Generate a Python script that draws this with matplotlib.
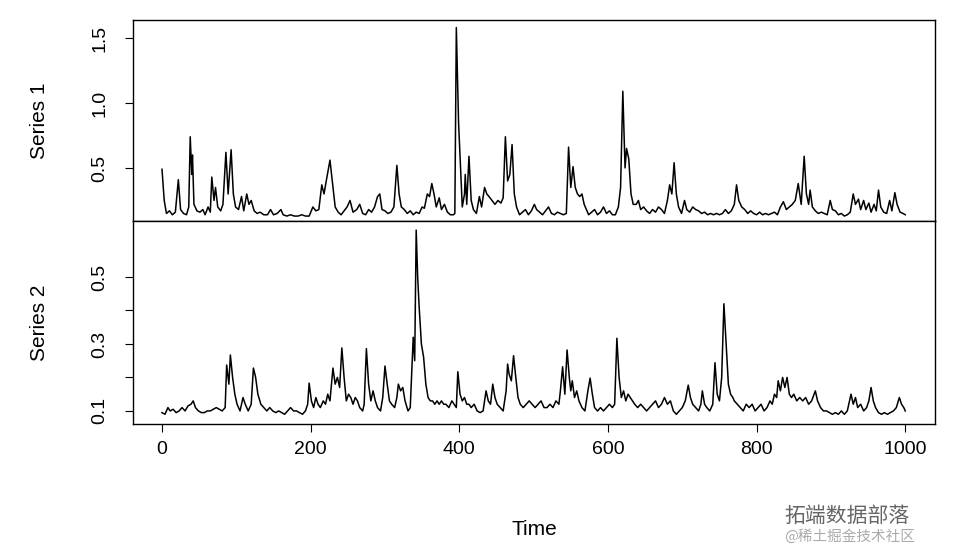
import matplotlib
matplotlib.use("Agg")
import matplotlib.pyplot as plt

s1 = [(0,.49),(3,.25),(6,.15),(10,.17),(14,.14),(18,.16),(22,.41),(25,.18),(29,.15),(33,.14),(36,.2),(38,.74),(40,.45),(41,.6),(43,.22),(47,.17),(51,.16),(55,.18),(58,.14),(62,.2),(65,.16),(67,.43),(70,.25),(72,.35),(75,.2),(79,.17),(82,.22),(86,.62),(89,.3),(93,.64),(96,.3),(99,.2),(103,.18),(107,.28),(110,.17),(114,.3),(117,.22),(120,.25),(124,.17),(128,.15),(132,.16),(137,.14),(142,.14),(146,.18),(150,.14),(155,.15),(160,.18),(163,.14),(168,.13),(173,.14),(178,.13),(183,.13),(188,.14),(193,.13),(198,.13),(203,.2),(207,.17),(211,.18),(215,.37),(218,.3),(221,.4),(226,.56),(230,.35),(233,.2),(237,.16),(241,.14),(245,.17),(249,.2),(253,.25),(257,.16),(262,.18),(266,.22),(270,.15),(274,.14),(278,.18),(282,.16),(286,.2),(290,.28),(293,.3),(296,.18),(300,.17),(304,.15),(308,.16),(312,.2),(316,.52),(319,.3),(322,.2),(326,.18),(330,.15),(334,.17),(338,.14),(342,.16),(346,.15),(350,.2),(353,.19),(357,.3),(360,.28),(363,.38),(366,.3),(369,.2),(373,.27),(376,.18),(380,.22),(384,.16),(388,.14),(392,.14),(394,.15),(396,1.58),(399,.85),(402,.45),(404,.2),(407,.3),(408,.45),(410,.22),(413,.59),(416,.25),(419,.18),(423,.15),(427,.28),(430,.2),(434,.35),(437,.3),(440,.28),(444,.25),(448,.22),(452,.25),(456,.23),(459,.27),(462,.74),(465,.4),(468,.45),(471,.68),(474,.3),(477,.2),(481,.14),(485,.16),(489,.18),(493,.14),(497,.17),(501,.22),(504,.18),(508,.16),(512,.14),(516,.17),(520,.2),(524,.15),(528,.14),(532,.16),(536,.15),(540,.14),(544,.15),(547,.66),(550,.35),(553,.51),(556,.35),(559,.3),(562,.28),(565,.3),(568,.22),(571,.18),(574,.14),(578,.16),(582,.18),(586,.14),(590,.16),(594,.2),(598,.15),(602,.17),(606,.14),(610,.14),(614,.2),(617,.35),(620,1.09),(623,.5),(625,.65),(628,.57),(631,.3),(634,.22),(638,.22),(641,.25),(644,.18),(648,.2),(652,.17),(656,.15),(660,.18),(664,.16),(668,.2),(672,.18),(676,.15),(680,.25),(683,.37),(686,.3),(689,.54),(692,.3),(695,.2),(699,.15),(703,.25),(706,.18),(710,.16),(714,.2),(718,.18),(722,.17),(726,.15),(730,.16),(734,.14),(738,.15),(742,.14),(746,.15),(750,.14),(754,.15),(758,.18),(762,.15),(766,.17),(770,.22),(773,.37),(776,.25),(780,.2),(784,.18),(788,.15),(792,.17),(796,.15),(800,.14),(804,.16),(808,.14),(812,.15),(816,.14),(820,.15),(824,.16),(828,.14),(832,.2),(836,.24),(840,.18),(844,.2),(848,.22),(852,.25),(856,.38),(860,.22),(864,.59),(867,.3),(870,.22),(872,.33),(875,.2),(879,.17),(883,.15),(887,.16),(891,.15),(895,.14),(899,.25),(902,.18),(906,.17),(910,.14),(914,.15),(918,.13),(922,.14),(926,.16),(930,.3),(933,.22),(937,.26),(940,.18),(944,.25),(947,.18),(951,.23),(954,.16),(958,.22),(961,.17),(964,.33),(967,.2),(971,.16),(975,.15),(979,.25),(982,.17),(986,.31),(989,.22),(993,.16),(997,.15),(1000,.14)]

s2 = [(0,.095),(4,.09),(8,.11),(11,.1),(15,.105),(19,.095),(23,.1),(27,.11),(31,.1),(35,.115),(39,.12),(42,.13),(45,.11),(49,.1),(53,.095),(57,.095),(61,.1),(65,.1),(69,.105),(73,.11),(77,.105),(81,.1),(85,.11),(87,.237),(90,.18),(92,.267),(95,.2),(98,.15),(101,.12),(105,.1),(109,.14),(112,.12),(116,.1),(120,.12),(123,.228),(126,.2),(129,.15),(133,.12),(137,.11),(141,.1),(145,.11),(149,.1),(153,.095),(157,.1),(161,.095),(165,.09),(169,.1),(173,.11),(177,.1),(181,.1),(185,.095),(189,.09),(193,.1),(196,.12),(198,.183),(201,.13),(204,.11),(207,.14),(210,.12),(213,.11),(217,.13),(220,.12),(223,.15),(226,.13),(230,.228),(233,.18),(236,.2),(239,.17),(242,.288),(245,.2),(248,.13),(251,.15),(254,.14),(257,.12),(260,.14),(263,.13),(266,.11),(270,.1),(272,.12),(275,.286),(278,.18),(281,.13),(284,.16),(287,.13),(290,.11),(294,.1),(297,.14),(300,.234),(303,.18),(306,.13),(309,.12),(313,.11),(316,.14),(318,.18),(321,.16),(324,.17),(327,.13),(331,.1),(334,.11),(338,.32),(340,.25),(342,.64),(344,.5),(346,.41),(349,.3),(352,.26),(355,.18),(358,.14),(361,.13),(364,.13),(367,.12),(370,.13),(373,.12),(376,.13),(379,.12),(382,.12),(386,.11),(390,.13),(393,.12),(396,.11),(398,.217),(401,.15),(404,.13),(407,.14),(410,.12),(413,.12),(416,.11),(420,.12),(424,.1),(428,.095),(432,.1),(436,.16),(439,.13),(442,.12),(445,.18),(448,.14),(451,.12),(455,.11),(459,.1),(463,.16),(465,.24),(467,.21),(470,.19),(473,.265),(476,.2),(479,.14),(482,.12),(486,.11),(490,.12),(494,.13),(498,.12),(502,.11),(506,.12),(510,.13),(514,.11),(518,.11),(522,.12),(526,.11),(530,.13),(534,.12),(536,.16),(539,.232),(542,.15),(545,.282),(548,.2),(550,.16),(552,.19),(555,.14),(558,.16),(561,.13),(565,.11),(569,.1),(573,.16),(576,.198),(579,.15),(582,.11),(586,.1),(590,.11),(594,.1),(598,.11),(602,.12),(606,.11),(609,.12),(612,.317),(615,.2),(618,.14),(621,.16),(624,.13),(627,.15),(630,.14),(633,.13),(636,.12),(640,.11),(644,.12),(648,.11),(652,.1),(656,.11),(660,.12),(664,.13),(668,.11),(672,.12),(676,.14),(680,.12),(684,.13),(688,.1),(692,.09),(696,.1),(700,.11),(704,.13),(708,.177),(711,.14),(714,.12),(718,.11),(722,.1),(725,.12),(727,.16),(730,.12),(733,.11),(737,.1),(741,.12),(744,.244),(747,.15),(750,.13),(753,.2),(756,.42),(759,.3),(762,.18),(765,.15),(768,.14),(770,.13),(774,.12),(778,.11),(782,.1),(786,.12),(790,.11),(794,.12),(798,.1),(802,.11),(806,.12),(810,.1),(814,.11),(818,.13),(821,.12),(824,.15),(827,.14),(829,.19),(832,.16),(835,.2),(838,.17),(841,.2),(844,.15),(847,.14),(850,.15),(854,.13),(858,.14),(862,.13),(866,.14),(870,.12),(874,.13),(879,.16),(882,.13),(886,.11),(890,.1),(894,.1),(898,.095),(902,.09),(906,.095),(910,.09),(914,.1),(918,.09),(922,.1),(927,.15),(930,.12),(933,.14),(936,.11),(940,.12),(944,.1),(948,.11),(951,.13),(954,.17),(957,.13),(960,.11),(964,.095),(968,.09),(972,.095),(976,.09),(980,.095),(984,.1),(988,.11),(992,.14),(995,.12),(998,.11),(1000,.1)]

x_ticks = [0, 200, 400, 600, 800, 1000]
y1_ticks = [0.5, 1.0, 1.5]
y2_ticks = [0.1, 0.2, 0.3, 0.4, 0.5]
y2_labels = ["0.1", "", "0.3", "", "0.5"]

plt.rcParams['font.family'] = ['Liberation Sans', 'DejaVu Sans', 'Noto Sans CJK SC']
fig = plt.figure(figsize=(9.62, 5.55), dpi=100)
ax1 = fig.add_axes([133/962, 1-221/555, 802/962, 201/555])
ax2 = fig.add_axes([133/962, 1-424/555, 802/962, 203/555])

ax1.plot([p[0] for p in s1], [p[1] for p in s1], color='black', lw=1.1)
ax2.plot([p[0] for p in s2], [p[1] for p in s2], color='black', lw=1.1)

for ax in (ax1, ax2):
    ax.set_xlim(-39, 1040)
    ax.tick_params(labelsize=14, length=6, pad=6)
    ax.tick_params(axis='y', pad=12)
    for sp in ax.spines.values():
        sp.set_linewidth(1)
ax1.set_ylim(0.092, 1.638)
ax2.set_ylim(0.061, 0.667)
ax1.set_xticks([])
ax1.set_yticks(y1_ticks)
ax1.set_yticklabels([str(v) for v in y1_ticks], rotation=90, va='center')
ax2.set_yticks(y2_ticks)
ax2.set_yticklabels(y2_labels, rotation=90, va='center')
ax2.set_xticks(x_ticks)
ax2.set_xticklabels([str(v) for v in x_ticks])
ax1.set_ylabel("Series 1", fontsize=15, labelpad=30)
ax2.set_ylabel("Series 2", fontsize=15, labelpad=30)
ax2.set_xlabel("Time", fontsize=15, labelpad=45)
fig.text(0.815, 0.06, "拓端数据部落", fontsize=15, color='#666666', family=['Noto Sans CJK SC', 'DejaVu Sans'])
fig.text(0.815, 0.025, "@稀土掘金技术社区", fontsize=10.5, color='#aaaaaa', family=['Noto Sans CJK SC', 'DejaVu Sans'])
fig.savefig("out.png", dpi=100)
